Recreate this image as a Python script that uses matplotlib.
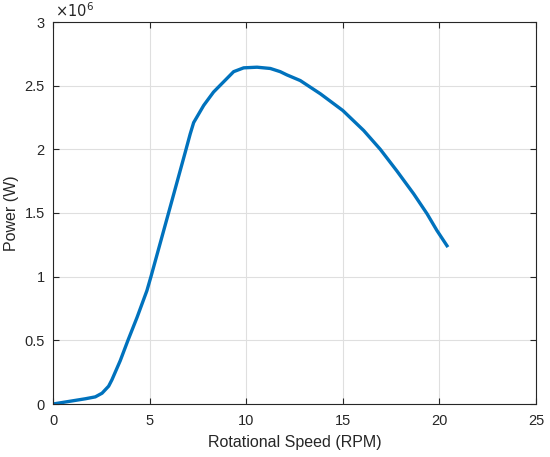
import matplotlib
matplotlib.use("Agg")
import matplotlib.pyplot as plt

rpm = [0, 1.67, 2.19, 2.54, 2.88, 3.05, 3.48, 3.88, 4.35, 4.86, 5.07, 5.98, 6.85,
       7.1, 7.28, 7.8, 8.31, 8.83, 9.35, 9.87, 10.56, 11.25, 11.76, 12.1, 12.8,
       13.84, 15.0, 16.08, 16.94, 17.8, 18.67, 19.36, 19.87, 20.44]
power_mw = [0, 0.041, 0.056, 0.085, 0.14, 0.19, 0.34, 0.5, 0.68, 0.89, 1.0, 1.5,
            1.98, 2.12, 2.21, 2.345, 2.45, 2.53, 2.61, 2.64, 2.645, 2.635, 2.61,
            2.585, 2.54, 2.436, 2.305, 2.148, 2.0, 1.83, 1.65, 1.494, 1.363, 1.232]
power = [v * 1e6 for v in power_mw]
xticks = [0, 5, 10, 15, 20, 25]
yticks = [0, 0.5e6, 1e6, 1.5e6, 2e6, 2.5e6, 3e6]
ytick_labels = ["0", "0.5", "1", "1.5", "2", "2.5", "3"]

plt.rcParams['font.family'] = ['Liberation Sans', 'DejaVu Sans']
dark = '#262626'

fig = plt.figure(figsize=(5.5, 4.57), dpi=100)
ax = fig.add_axes([53/550, 1 - 404/457, (536-53)/550, (404-22)/457])
ax.plot(rpm, power, color='#0072BD', lw=2.4, solid_capstyle='butt',
        solid_joinstyle='round')
ax.set_xlim(0, 25)
ax.set_ylim(0, 3e6)
ax.set_xticks(xticks)
ax.set_xticklabels([str(t) for t in xticks])
ax.set_yticks(yticks)
ax.set_yticklabels(ytick_labels)
ax.grid(True, color='#dfdfdf', lw=0.8)
ax.set_axisbelow(True)
ax.tick_params(direction='in', top=True, right=True, length=4, width=0.8,
               colors=dark, labelsize=10.5, labelcolor=dark)
ax.tick_params(axis='x', pad=7)
ax.tick_params(axis='y', pad=6)
for s in ax.spines.values():
    s.set_color(dark)
    s.set_linewidth(0.8)
ax.set_xlabel('Rotational Speed (RPM)', fontsize=11.5, color=dark, labelpad=5)
ax.set_ylabel('Power (W)', fontsize=11.5, color=dark, labelpad=4)
ax.text(0.005, 1.005, r'$\times10^{6}$', transform=ax.transAxes, fontsize=10.5,
        color=dark, ha='left', va='bottom', math_fontfamily='dejavusans')
fig.savefig('out.png', dpi=100)
